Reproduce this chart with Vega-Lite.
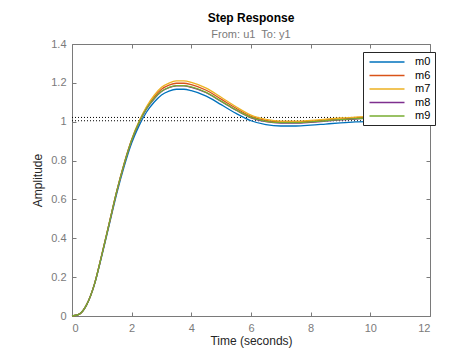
{
  "$schema": "https://vega.github.io/schema/vega-lite/v6.json",
  "autosize": {"type": "none"},
  "padding": {"left": 72, "top": 44, "right": 44, "bottom": 39},
  "width": 358,
  "height": 272,
  "background": "white",
  "config": {
    "font": "Liberation Sans",
    "view": {"stroke": null},
    "axis": {"domainColor": "#7a7a7a", "tickColor": "#7a7a7a", "labelColor": "#7a7a7a", "labelFontSize": 11, "titleColor": "#262626", "titleFontSize": 12, "titleFontWeight": "normal", "grid": false, "tickSize": -4, "labelFont": "Liberation Sans", "titleFont": "Liberation Sans"}
  },
  "title": {
    "text": "Step Response",
    "subtitle": "From: u1\u00a0 To: y1",
    "anchor": "middle",
    "fontSize": 12,
    "fontWeight": "bold",
    "color": "#000000",
    "subtitleFontSize": 11,
    "subtitleColor": "#7a7a7a",
    "subtitlePadding": 4,
    "offset": -3
  },
  "datasets": {
    "resp": [
      {"t":0,"m":"m0","y":0},{"t":0.25,"m":"m0","y":0.01},{"t":0.5,"m":"m0","y":0.06},{"t":0.75,"m":"m0","y":0.16},{"t":1,"m":"m0","y":0.31},{"t":1.25,"m":"m0","y":0.47},{"t":1.5,"m":"m0","y":0.63},{"t":1.75,"m":"m0","y":0.77},{"t":2,"m":"m0","y":0.89},{"t":2.25,"m":"m0","y":0.98},{"t":2.5,"m":"m0","y":1.05},{"t":2.75,"m":"m0","y":1.1},{"t":3,"m":"m0","y":1.138},{"t":3.25,"m":"m0","y":1.158},{"t":3.5,"m":"m0","y":1.167},{"t":3.75,"m":"m0","y":1.167},{"t":4,"m":"m0","y":1.16},{"t":4.5,"m":"m0","y":1.132},{"t":5,"m":"m0","y":1.088},{"t":5.5,"m":"m0","y":1.043},{"t":6,"m":"m0","y":1.005},{"t":6.5,"m":"m0","y":0.985},{"t":7,"m":"m0","y":0.978},{"t":7.5,"m":"m0","y":0.978},{"t":8,"m":"m0","y":0.982},{"t":8.5,"m":"m0","y":0.988},{"t":9,"m":"m0","y":0.994},{"t":9.5,"m":"m0","y":0.999},{"t":10,"m":"m0","y":1.002},{"t":10.5,"m":"m0","y":1.004},{"t":11,"m":"m0","y":1.005},{"t":11.5,"m":"m0","y":1.005},{"t":12,"m":"m0","y":1.005},
      {"t":0,"m":"m6","y":0},{"t":0.25,"m":"m6","y":0.01},{"t":0.5,"m":"m6","y":0.061},{"t":0.75,"m":"m6","y":0.163},{"t":1,"m":"m6","y":0.316},{"t":1.25,"m":"m6","y":0.479},{"t":1.5,"m":"m6","y":0.642},{"t":1.75,"m":"m6","y":0.785},{"t":2,"m":"m6","y":0.907},{"t":2.25,"m":"m6","y":1.0},{"t":2.5,"m":"m6","y":1.073},{"t":2.75,"m":"m6","y":1.127},{"t":3,"m":"m6","y":1.167},{"t":3.25,"m":"m6","y":1.188},{"t":3.5,"m":"m6","y":1.198},{"t":3.75,"m":"m6","y":1.198},{"t":4,"m":"m6","y":1.191},{"t":4.5,"m":"m6","y":1.162},{"t":5,"m":"m6","y":1.116},{"t":5.5,"m":"m6","y":1.069},{"t":6,"m":"m6","y":1.028},{"t":6.5,"m":"m6","y":1.007},{"t":7,"m":"m6","y":0.999},{"t":7.5,"m":"m6","y":0.999},{"t":8,"m":"m6","y":1.003},{"t":8.5,"m":"m6","y":1.009},{"t":9,"m":"m6","y":1.015},{"t":9.5,"m":"m6","y":1.02},{"t":10,"m":"m6","y":1.023},{"t":10.5,"m":"m6","y":1.025},{"t":11,"m":"m6","y":1.026},{"t":11.5,"m":"m6","y":1.026},{"t":12,"m":"m6","y":1.026},
      {"t":0,"m":"m7","y":0},{"t":0.25,"m":"m7","y":0.01},{"t":0.5,"m":"m7","y":0.061},{"t":0.75,"m":"m7","y":0.163},{"t":1,"m":"m7","y":0.317},{"t":1.25,"m":"m7","y":0.48},{"t":1.5,"m":"m7","y":0.643},{"t":1.75,"m":"m7","y":0.787},{"t":2,"m":"m7","y":0.909},{"t":2.25,"m":"m7","y":1.003},{"t":2.5,"m":"m7","y":1.078},{"t":2.75,"m":"m7","y":1.135},{"t":3,"m":"m7","y":1.177},{"t":3.25,"m":"m7","y":1.199},{"t":3.5,"m":"m7","y":1.21},{"t":3.75,"m":"m7","y":1.21},{"t":4,"m":"m7","y":1.203},{"t":4.5,"m":"m7","y":1.173},{"t":5,"m":"m7","y":1.126},{"t":5.5,"m":"m7","y":1.077},{"t":6,"m":"m7","y":1.034},{"t":6.5,"m":"m7","y":1.012},{"t":7,"m":"m7","y":1.003},{"t":7.5,"m":"m7","y":1.003},{"t":8,"m":"m7","y":1.007},{"t":8.5,"m":"m7","y":1.013},{"t":9,"m":"m7","y":1.019},{"t":9.5,"m":"m7","y":1.024},{"t":10,"m":"m7","y":1.027},{"t":10.5,"m":"m7","y":1.029},{"t":11,"m":"m7","y":1.03},{"t":11.5,"m":"m7","y":1.03},{"t":12,"m":"m7","y":1.03},
      {"t":0,"m":"m8","y":0},{"t":0.25,"m":"m8","y":0.01},{"t":0.5,"m":"m8","y":0.061},{"t":0.75,"m":"m8","y":0.163},{"t":1,"m":"m8","y":0.315},{"t":1.25,"m":"m8","y":0.477},{"t":1.5,"m":"m8","y":0.64},{"t":1.75,"m":"m8","y":0.782},{"t":2,"m":"m8","y":0.903},{"t":2.25,"m":"m8","y":0.995},{"t":2.5,"m":"m8","y":1.066},{"t":2.75,"m":"m8","y":1.117},{"t":3,"m":"m8","y":1.155},{"t":3.25,"m":"m8","y":1.175},{"t":3.5,"m":"m8","y":1.184},{"t":3.75,"m":"m8","y":1.184},{"t":4,"m":"m8","y":1.177},{"t":4.5,"m":"m8","y":1.149},{"t":5,"m":"m8","y":1.104},{"t":5.5,"m":"m8","y":1.059},{"t":6,"m":"m8","y":1.02},{"t":6.5,"m":"m8","y":1.0},{"t":7,"m":"m8","y":0.993},{"t":7.5,"m":"m8","y":0.993},{"t":8,"m":"m8","y":0.997},{"t":8.5,"m":"m8","y":1.003},{"t":9,"m":"m8","y":1.009},{"t":9.5,"m":"m8","y":1.014},{"t":10,"m":"m8","y":1.018},{"t":10.5,"m":"m8","y":1.02},{"t":11,"m":"m8","y":1.021},{"t":11.5,"m":"m8","y":1.021},{"t":12,"m":"m8","y":1.021},
      {"t":0,"m":"m9","y":0},{"t":0.25,"m":"m9","y":0.01},{"t":0.5,"m":"m9","y":0.061},{"t":0.75,"m":"m9","y":0.163},{"t":1,"m":"m9","y":0.315},{"t":1.25,"m":"m9","y":0.478},{"t":1.5,"m":"m9","y":0.641},{"t":1.75,"m":"m9","y":0.783},{"t":2,"m":"m9","y":0.905},{"t":2.25,"m":"m9","y":0.997},{"t":2.5,"m":"m9","y":1.068},{"t":2.75,"m":"m9","y":1.119},{"t":3,"m":"m9","y":1.157},{"t":3.25,"m":"m9","y":1.177},{"t":3.5,"m":"m9","y":1.186},{"t":3.75,"m":"m9","y":1.186},{"t":4,"m":"m9","y":1.179},{"t":4.5,"m":"m9","y":1.151},{"t":5,"m":"m9","y":1.106},{"t":5.5,"m":"m9","y":1.061},{"t":6,"m":"m9","y":1.022},{"t":6.5,"m":"m9","y":1.002},{"t":7,"m":"m9","y":0.995},{"t":7.5,"m":"m9","y":0.995},{"t":8,"m":"m9","y":0.999},{"t":8.5,"m":"m9","y":1.005},{"t":9,"m":"m9","y":1.011},{"t":9.5,"m":"m9","y":1.016},{"t":10,"m":"m9","y":1.019},{"t":10.5,"m":"m9","y":1.021},{"t":11,"m":"m9","y":1.022},{"t":11.5,"m":"m9","y":1.022},{"t":12,"m":"m9","y":1.022}
    ],
    "ss": [
      {"t0": 0, "t1": 12, "v": 1.005},
      {"t0": 0, "t1": 12, "v": 1.022}
    ]
  },
  "layer": [
    {
      "data": {"name": "ss"},
      "mark": {"type": "rule", "color": "#000000", "strokeDash": [1, 2], "strokeWidth": 1},
      "encoding": {
        "x": {"field": "t0", "type": "quantitative", "scale": {"domain": [0, 12], "nice": false}, "axis": {"orient": "top", "labels": false, "title": null, "values": [0,2,4,6,8,10,12]}},
        "x2": {"field": "t1"},
        "y": {"field": "v", "type": "quantitative", "scale": {"domain": [0, 1.4], "nice": false}, "axis": {"orient": "right", "labels": false, "title": null, "values": [0,0.2,0.4,0.6,0.8,1,1.2,1.4]}}
      }
    },
    {
      "data": {"name": "resp"},
      "mark": {"type": "line", "strokeWidth": 1.3, "interpolate": "monotone"},
      "encoding": {
        "x": {"field": "t", "type": "quantitative", "scale": {"domain": [0, 12], "nice": false}, "axis": {"orient": "bottom", "title": "Time (seconds)", "values": [0,2,4,6,8,10,12], "labelPadding": 10, "titlePadding": 2}},
        "y": {"field": "y", "type": "quantitative", "scale": {"domain": [0, 1.4], "nice": false}, "axis": {"orient": "left", "title": "Amplitude", "format": "~g", "values": [0,0.2,0.4,0.6,0.8,1,1.2,1.4], "labelPadding": 10, "titlePadding": 6}},
        "color": {
          "field": "m", "type": "nominal",
          "scale": {"domain": ["m0","m6","m7","m8","m9"], "range": ["#0072BD","#D95319","#EDB120","#7E2F8E","#77AC30"]},
          "legend": {"title": null, "orient": "none", "legendX": 291, "legendY": 8, "fillColor": "white", "strokeColor": "#262626", "padding": 4, "symbolType": "M-3.5,0H3.5", "symbolSize": 100, "symbolStrokeWidth": 1.5, "symbolOffset": 14, "labelOffset": 22, "labelFontSize": 11, "labelColor": "#000000", "rowPadding": 2.5, "labelFont": "Liberation Sans"}
        }
      }
    }
  ],
  "resolve": {"axis": {"x": "independent", "y": "independent"}}
}
